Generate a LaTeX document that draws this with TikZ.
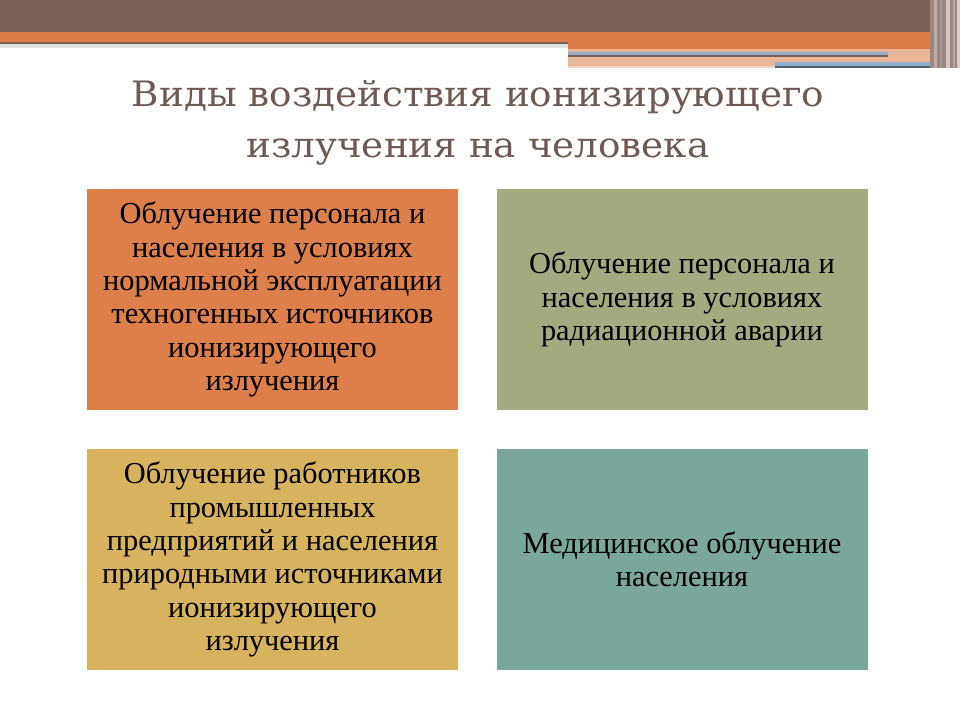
\documentclass[tikz,border=0pt]{standalone}
\usepackage{fontspec}
\setmainfont{Liberation Serif}
\newfontfamily\titlefont{DejaVu Serif}
\definecolor{bannerbrown}{HTML}{7A5F55}
\definecolor{bannerorange}{HTML}{DC7E47}
\definecolor{peach}{HTML}{E8B597}
\definecolor{lineblue}{HTML}{93AFCB}
\definecolor{titlecol}{HTML}{6E5A53}
\definecolor{boxA}{HTML}{DC7F4A}
\definecolor{boxB}{HTML}{A4A97F}
\definecolor{boxC}{HTML}{D8B35F}
\definecolor{boxD}{HTML}{7AA79B}
\tikzset{
  infobox/.style={minimum width=371pt, minimum height=221pt, inner sep=0pt, align=center,
    font=\fontsize{30.4}{33.4}\selectfont, text=black},
}
\begin{document}
\begin{tikzpicture}[x=1pt,y=-1pt]
\useasboundingbox (0,0) rectangle (960,720);
\fill[white] (0,0) rectangle (960,720);
% banner
\fill[bannerbrown] (0,0) rectangle (960,32);
\fill[bannerorange] (0,32) rectangle (568,42);
\fill[bannerbrown] (0,42) rectangle (568,44);
\fill[black!12] (0,44) rectangle (568,48);
\fill[bannerorange] (568,32) rectangle (935,49);
\fill[peach] (568,49) rectangle (935,66);
\fill[lineblue] (568,52) rectangle (888,55);
\fill[bannerbrown] (568,55) rectangle (888,57);
\fill[lineblue] (775,62) rectangle (945,66);
\fill[black!45!lineblue] (775,66) rectangle (945,68);
\fill[peach!60] (568,66) rectangle (775,68);
% right edge stripes
\fill[white!25!bannerbrown] (930,0) rectangle (960,68);
\fill[white!50!bannerbrown] (934,0) rectangle (937,68);
\fill[white!35!bannerbrown] (940,0) rectangle (942,68);
\fill[white!65!bannerbrown] (946,0) rectangle (950,68);
\fill[white!45!bannerbrown] (953,0) rectangle (955,68);
\fill[white!70!bannerbrown] (957,0) rectangle (960,68);
% title
\node[font=\titlefont\fontsize{35}{51}\selectfont, text=titlecol, align=center, anchor=base] (title) at (478,157)
  {\scalebox{1.065}[1]{Виды воздействия ионизирующего}\\\scalebox{1.065}[1]{излучения на человека}};
% boxes
\node[infobox, fill=boxA] (b1) at (272.5,299.5) {Облучение персонала и\\населения в условиях\\нормальной эксплуатации\\техногенных источников\\ионизирующего\\излучения};
\node[infobox, fill=boxB] (b2) at (682,299.5) {Облучение персонала и\\населения в условиях\\радиационной аварии};
\node[infobox, fill=boxC] (b3) at (272.5,559.5) {Облучение работников\\промышленных\\предприятий и населения\\природными источниками\\ионизирующего\\излучения};
\node[infobox, fill=boxD] (b4) at (682,559.5) {Медицинское облучение\\населения};
\end{tikzpicture}
\end{document}
